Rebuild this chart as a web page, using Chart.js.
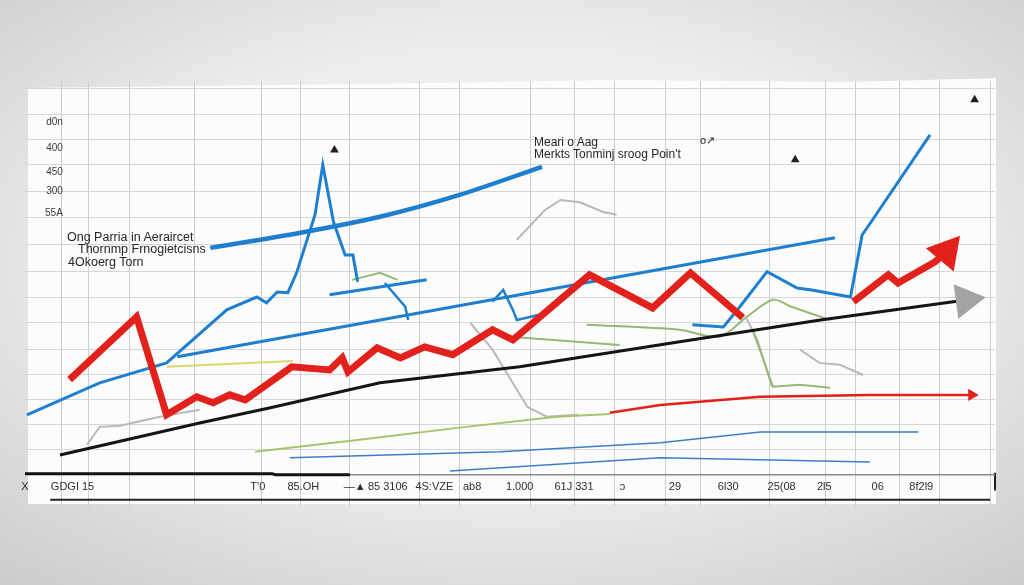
<!DOCTYPE html>
<html>
<head>
<meta charset="utf-8">
<script src="https://cdn.jsdelivr.net/npm/chart.js@4/dist/chart.umd.min.js"></script>
<style>
  html, body { margin: 0; padding: 0; }
  body {
    width: 1024px; height: 585px; overflow: hidden; position: relative;
    background: radial-gradient(ellipse 75% 72% at 50% 45%, #f8f8f8 0%, #ededed 52%, #cdcdcd 100%);
    font-family: "Liberation Sans", Arial, sans-serif;
  }
  .paper {
    position: absolute; left: 28px; top: 78px; width: 968px; height: 426px;
    background: #fcfcfc;
    box-shadow: 3px 0 4px rgba(0,0,0,0.18);
    clip-path: polygon(0 10px, 35% 6px, 60% 2px, 85% 4px, 100% 0, 100% 100%, 0 100%);
  }
  canvas { position: absolute; left: 0; top: 0; }
  .note { position: absolute; color: #262626; font-size: 12.5px; line-height: 12.5px; white-space: nowrap; }
</style>
</head>
<body>
<div class="paper"></div>
<canvas id="marketChart" width="1024" height="585"></canvas>
<div class="note" style="left:67px; top:231px;">Ong Parria in Aeraircet</div>
<div class="note" style="left:78px; top:243px;">Thornmp Frnogietcisns</div>
<div class="note" style="left:68px; top:256px;">4Okoerg Torn</div>
<div class="note" style="left:534px; top:136px; font-size:12px;">Meari o Aag</div>
<div class="note" style="left:534px; top:148px; font-size:12px;">Merkts Tonminj sroog Poin't</div>
<div class="note" style="left:700px; top:134px; font-size:11px;">o↗</div>
<script>
// x runs 0..100 across the sheet, y runs 0..100 from the axis upwards
const xTickPos = [0, 4.9, 24.0, 28.7, 34.0, 37.4, 42.2, 46.1, 51.0, 56.6, 61.6, 67.0, 72.5, 78.0, 82.4, 87.9, 92.4];
const xTickLabels = ['X', 'GDGI 15', "T'0", '85.OH', '—▲', '85 3106', '4S:VZE', 'ab8', '1.000', '61J 331', 'ↄ', '29', '6l30', '25(08', '2l5', '06', '8f2l9'];
const yTickPos = [90.3, 83.8, 77.7, 72.6, 67.2];
const yTickLabels = ['d0n', '400', '450', '300', '55A'];
const gridCols = [3.8, 6.5, 10.8, 17.5, 24.4, 28.4, 33.5, 40.7, 44.8, 52.1, 56.7, 60.8, 66.0, 69.6, 76.8, 82.5, 85.6, 90.2, 94.3, 99.5];
const gridRows = [99.2, 92.3, 85.9, 79.5, 72.6, 65.9, 59.0, 52.1, 45.4, 39.0, 32.1, 25.6, 19.2, 12.8, 6.4];

const redMainX = [4.6, 11.5, 14.6, 17.7, 19.4, 21.1, 22.7, 27.5, 31.4, 32.7, 33.3, 36.3, 38.7, 41.2, 44.1, 48.2, 50.3, 58.2, 64.7, 68.6, 74.0];
const redMainY = [24.4, 40.5, 15.4, 20.0, 18.5, 20.5, 19.2, 27.7, 26.9, 30.0, 26.4, 32.6, 30.0, 32.8, 30.8, 37.2, 34.6, 51.3, 42.8, 51.8, 40.3];
const redRiseX = [85.4, 89.0, 90.0, 93.8, 95.0];
const redRiseY = [44.4, 51.3, 49.2, 54.6, 57.2];
const redThinX = [60.3, 65.5, 75.8, 87.1, 97.6];
const redThinY = [15.9, 17.9, 20.0, 20.5, 20.5];

const blueSpikeX = [0.2, 7.7, 14.6, 20.8, 23.9, 24.9, 26.0, 27.1, 28.0, 29.9, 30.7, 31.8, 33.0, 33.8, 34.3];
const blueSpikeY = [15.4, 23.6, 28.7, 42.3, 45.6, 44.1, 46.9, 46.7, 51.8, 66.7, 79.5, 64.9, 56.4, 56.4, 49.5];
const blueKinkX = [37.1, 39.2, 39.5];
const blueKinkY = [49.2, 43.1, 39.7];
const blueZigX = [48.2, 49.3, 50.3, 50.7, 53.8, 55.2];
const blueZigY = [44.4, 47.4, 42.3, 39.7, 41.5, 44.9];
const blueUpperX = [19.1, 28.4, 36.6, 44.8, 53.3];
const blueUpperY = [58.2, 62.1, 66.2, 71.8, 79.0];
const blueShortX = [31.4, 41.4];
const blueShortY = [46.2, 50.0];
const blueTrendX = [15.7, 49.0, 83.5];
const blueTrendY = [30.3, 45.3, 60.8];
const blueRightX = [68.8, 72.0, 73.7, 76.5, 79.6, 81.1, 85.1, 86.3, 86.8, 93.3];
const blueRightY = [38.5, 37.9, 43.1, 52.1, 47.9, 47.4, 45.6, 61.5, 63.3, 87.2];
const blueLowAX = [27.3, 49.0, 65.5, 75.8, 92.1];
const blueLowAY = [4.4, 5.9, 8.2, 11.0, 11.0];
const blueLowBX = [43.8, 65.5, 87.1];
const blueLowBY = [1.0, 4.4, 3.3];

const blackX = [3.6, 18.0, 25.3, 36.6, 51.0, 67.5, 82.0, 95.7, 97.0];
const blackY = [5.1, 13.3, 17.2, 23.6, 27.7, 34.1, 39.7, 44.4, 44.8];

const greenAX = [33.7, 36.6, 38.4];
const greenAY = [50.0, 51.8, 50.0];
const greenBX = [49.0, 61.3];
const greenBY = [35.6, 33.3];
const greenCX = [57.9, 67.5, 71.6, 74.4, 77.1, 79.0, 83.0];
const greenCY = [38.5, 37.2, 35.4, 40.5, 44.9, 43.1, 39.7];
const greenDX = [75.0, 76.1, 77.1, 79.9, 83.0];
const greenDY = [37.2, 29.7, 22.6, 23.1, 22.3];
const greenLowX = [23.7, 34.5, 44.8, 54.8, 60.3];
const greenLowY = [5.9, 9.0, 12.1, 14.9, 15.6];
const yellowX = [14.6, 27.6];
const yellowY = [27.7, 29.2];

const grayAX = [50.7, 53.6, 55.2, 57.2, 59.6, 61.0];
const grayAY = [60.3, 67.9, 70.5, 69.9, 67.4, 66.7];
const grayBX = [45.9, 48.2, 51.8, 53.8, 57.0];
const grayBY = [39.0, 32.1, 17.4, 14.9, 15.4];
const grayCX = [6.4, 7.7, 9.8, 13.9, 18.0];
const grayCY = [7.7, 12.3, 12.6, 14.9, 16.7];
const grayDX = [79.9, 81.9, 84.0, 86.4];
const grayDY = [32.1, 28.7, 28.2, 25.6];
const grayEX = [74.4, 75.5, 77.0];
const grayEY = [40.0, 34.6, 22.6];

const markerX = [31.9, 79.4, 97.9];
const markerY = [83.3, 80.8, 96.2];

const axisMainX = [0, 25.5, 25.8, 33.5];
const axisMainY = [0.3, 0.3, 0, 0];
const axisRestX = [33.5, 100];
const axisRestY = [0, 0];
const baseLineX = [2.6, 99.5];
const baseLineY = [-6.4, -6.4];
const endTickX = [100, 100];
const endTickY = [0.5, -4];

const pts = (xs, ys) => xs.map((x, i) => ({ x: x, y: ys[i] }));

const isLast = ctx => ctx.dataIndex === ctx.dataset.data.length - 1;

const line = (xs, ys, color, width, extra) => Object.assign({
  data: pts(xs, ys),
  borderColor: color,
  backgroundColor: color,
  borderWidth: width,
  pointRadius: 0,
  fill: false,
  clip: false,
  borderJoinStyle: 'miter',
  borderCapStyle: 'butt'
}, extra || {});

const arrow = (color, radius, rotation) => ({
  pointStyle: 'triangle',
  pointRadius: ctx => isLast(ctx) ? radius : 0,
  pointRotation: rotation,
  pointBackgroundColor: color,
  pointBorderColor: color,
  pointBorderWidth: 0
});

const RED = '#e2211c';
const BLUE = '#1f7fcf';
const GREEN = '#93b975';
const GRAY = '#b9b9b9';

const datasets = [
  line(redRiseX, redRiseY, RED, 7, arrow(RED, 21, 40)),
  line(redMainX, redMainY, RED, 7),
  line(blackX, blackY, '#141414', 3, {
    pointStyle: 'triangle',
    pointRadius: ctx => isLast(ctx) ? 20 : 0,
    pointRotation: 82,
    pointBackgroundColor: '#a3a3a3',
    pointBorderWidth: 0
  }),
  line(redThinX, redThinY, RED, 2.5, arrow(RED, 7, 90)),
  line(blueSpikeX, blueSpikeY, BLUE, 3),
  line(blueKinkX, blueKinkY, BLUE, 2.5),
  line(blueZigX, blueZigY, BLUE, 2.5),
  line(blueUpperX, blueUpperY, BLUE, 4.5, { tension: 0.3 }),
  line(blueShortX, blueShortY, BLUE, 3),
  line(blueTrendX, blueTrendY, BLUE, 3),
  line(blueRightX, blueRightY, BLUE, 3),
  line(blueLowAX, blueLowAY, '#3a7fc4', 1.5),
  line(blueLowBX, blueLowBY, '#3a7fc4', 1.5),
  line(greenAX, greenAY, GREEN, 2),
  line(greenBX, greenBY, GREEN, 2),
  line(greenCX, greenCY, GREEN, 2, { tension: 0.3 }),
  line(greenDX, greenDY, GREEN, 2),
  line(greenLowX, greenLowY, '#a9c26c', 2),
  line(yellowX, yellowY, '#dcd46e', 2),
  line(grayAX, grayAY, GRAY, 2),
  line(grayBX, grayBY, GRAY, 2),
  line(grayCX, grayCY, GRAY, 2),
  line(grayDX, grayDY, GRAY, 2),
  line(grayEX, grayEY, GRAY, 2),
  line(markerX, markerY, '#1e1e1e', 0, {
    showLine: false, pointStyle: 'triangle', pointRadius: 5, pointBackgroundColor: '#1e1e1e', pointBorderWidth: 0
  }),
  line(axisMainX, axisMainY, '#111', 3),
  line(axisRestX, axisRestY, '#8a8a8a', 1.5),
  line(baseLineX, baseLineY, '#222', 2),
  line(endTickX, endTickY, '#222', 2)
];

const customTicks = values => scale => { scale.ticks = values.map(v => ({ value: v })); };

new Chart(document.getElementById('marketChart'), {
  type: 'line',
  data: { datasets: datasets },
  options: {
    animation: false,
    responsive: false,
    devicePixelRatio: 1,
    layout: { padding: { left: 25, right: 29, top: 81, bottom: 79 } },
    plugins: { legend: { display: false }, tooltip: { enabled: false } },
    elements: { line: { tension: 0 } },
    scales: {
      xg: {
        type: 'linear', axis: 'x', min: 0, max: 100, position: { y: 0 },
        afterBuildTicks: customTicks(gridCols),
        grid: { color: '#cdcdcd', lineWidth: 1, drawTicks: false },
        border: { display: false },
        ticks: { display: false }
      },
      yg: {
        type: 'linear', axis: 'y', min: -8, max: 101, position: { x: 0 },
        afterBuildTicks: customTicks(gridRows),
        grid: { color: '#d6d6d6', lineWidth: 1, drawTicks: false },
        border: { display: false },
        ticks: { display: false }
      },
      x: {
        type: 'linear', min: 0, max: 100, position: { y: 0 },
        afterBuildTicks: customTicks(xTickPos),
        grid: { display: false, drawTicks: false },
        border: { display: false },
        ticks: {
          autoSkip: false, maxRotation: 0, padding: 6,
          color: '#2e2e2e', font: { family: 'Liberation Sans', size: 11 },
          callback: (value, index) => xTickLabels[index]
        }
      },
      y: {
        type: 'linear', min: -8, max: 101, position: { x: 3.9 },
        afterBuildTicks: customTicks(yTickPos),
        grid: { display: false, drawTicks: false },
        border: { display: false },
        ticks: {
          padding: 1,
          color: '#3a3a3a', font: { family: 'Liberation Sans', size: 10 },
          callback: (value, index) => yTickLabels[index]
        }
      }
    }
  }
});
</script>
</body>
</html>
